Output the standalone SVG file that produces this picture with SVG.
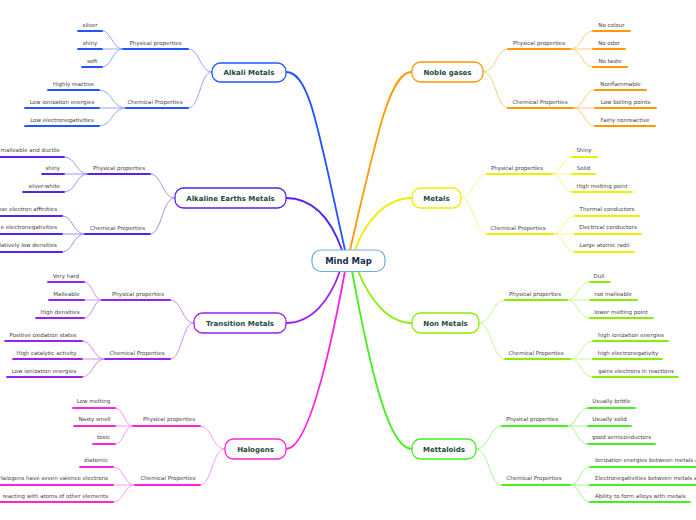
<svg xmlns="http://www.w3.org/2000/svg" width="696" height="520" viewBox="0 0 696 520">
<style>
.t{font-family:"DejaVu Sans",Verdana,sans-serif;font-size:5.5px;fill:#444;text-anchor:middle}
.te{text-anchor:end}.ts{text-anchor:start}
.n{font-family:"DejaVu Sans",Verdana,sans-serif;font-weight:bold;font-size:7px;fill:#1d4a3c;text-anchor:middle}
.c{fill:none;stroke-width:1}
.m{fill:none;stroke-width:1.8}
.u{stroke-width:1.8;stroke-linecap:round}
.box{fill:#fff;stroke-width:1.3}
.b1{stroke:#2255ff}.l1{stroke:#90a8ff}
.b2{stroke:#5522ee}.l2{stroke:#a690f8}
.b3{stroke:#9922ee}.l3{stroke:#cc90f8}
.b4{stroke:#ff22dd}.l4{stroke:#ff99ee}
.b5{stroke:#ff9900}.l5{stroke:#ffcc77}
.b6{stroke:#eeee00}.l6{stroke:#f6f690}
.b7{stroke:#88ee00}.l7{stroke:#c8f890}
.b8{stroke:#44ee22}.l8{stroke:#a4f890}
</style>
<g id="connectors">
<path class="m b1" d="M286,72 C310,72 318,130 345,250"/>
<path class="m b2" d="M286,198 C315,198 332,222 342,250"/>
<path class="m b3" d="M286,323 C312,323 330,300 340,271"/>
<path class="m b4" d="M286,449 C305,449 325,380 345,271"/>
<path class="m b5" d="M412,72 C390,72 378,130 350,250"/>
<path class="m b6" d="M412,198 C385,198 365,222 355,250"/>
<path class="m b7" d="M412,323 C388,323 370,300 358,271"/>
<path class="m b8" d="M412,449 C390,449 372,380 352,271"/>
<g class="l1">
<path class="c" d="M212,72 C200,72 200,49 188,49"/><path class="c" d="M212,72 C200,72 200,108 188,108"/>
<path class="c" d="M123,49 C112,49 112,31 102,31"/><path class="c" d="M123,49 L102,49"/><path class="c" d="M123,49 C112,49 112,67 102,67"/>
<path class="c" d="M126,108 C112,108 112,90 99,90"/><path class="c" d="M126,108 L99,108"/><path class="c" d="M126,108 C112,108 112,126 99,126"/>
</g>
<g class="l2">
<path class="c" d="M175,198 C162,198 162,174 150,174"/><path class="c" d="M175,198 C162,198 162,234 150,234"/>
<path class="c" d="M88,174 C76,174 76,157 64,157"/><path class="c" d="M88,174 L64,174"/><path class="c" d="M88,174 C76,174 76,192 64,192"/>
<path class="c" d="M85,234 C73,234 73,216 62,216"/><path class="c" d="M85,234 L62,234"/><path class="c" d="M85,234 C73,234 73,252 62,252"/>
</g>
<g class="l3">
<path class="c" d="M194,323 C182,323 182,300 170,300"/><path class="c" d="M194,323 C182,323 182,359 170,359"/>
<path class="c" d="M102,300 C93,300 93,282 84,282"/><path class="c" d="M102,300 L84,300"/><path class="c" d="M102,300 C93,300 93,318 84,318"/>
<path class="c" d="M105,359 C93,359 93,341 82,341"/><path class="c" d="M105,359 L82,359"/><path class="c" d="M105,359 C93,359 93,377 82,377"/>
</g>
<g class="l4">
<path class="c" d="M225,449 C212,449 212,426 200,426"/><path class="c" d="M225,449 C212,449 212,485 200,485"/>
<path class="c" d="M133,426 C124,426 124,408 115,408"/><path class="c" d="M133,426 L115,426"/><path class="c" d="M133,426 C124,426 124,444 115,444"/>
<path class="c" d="M135,485 C124,485 124,467 113,467"/><path class="c" d="M135,485 L113,485"/><path class="c" d="M135,485 C124,485 124,502 113,502"/>
</g>
<g class="l5">
<path class="c" d="M483,72 C496,72 496,49 508,49"/><path class="c" d="M483,72 C496,72 496,108 508,108"/>
<path class="c" d="M570,49 C582,49 582,31 593,31"/><path class="c" d="M570,49 L593,49"/><path class="c" d="M570,49 C582,49 582,67 593,67"/>
<path class="c" d="M573,108 C584,108 584,90 595,90"/><path class="c" d="M573,108 L595,108"/><path class="c" d="M573,108 C584,108 584,126 595,126"/>
</g>
<g class="l6">
<path class="c" d="M461,198 C474,198 474,174 487,174"/><path class="c" d="M461,198 C474,198 474,234 487,234"/>
<path class="c" d="M552,174 C562,174 562,157 572,157"/><path class="c" d="M552,174 L572,174"/><path class="c" d="M552,174 C562,174 562,192 572,192"/>
<path class="c" d="M553,234 C564,234 564,216 575,216"/><path class="c" d="M553,234 L575,234"/><path class="c" d="M553,234 C564,234 564,252 575,252"/>
</g>
<g class="l7">
<path class="c" d="M479,323 C492,323 492,300 505,300"/><path class="c" d="M479,323 C492,323 492,359 505,359"/>
<path class="c" d="M567,300 C578,300 578,282 590,282"/><path class="c" d="M567,300 L590,300"/><path class="c" d="M567,300 C578,300 578,318 590,318"/>
<path class="c" d="M570,359 C581,359 581,341 593,341"/><path class="c" d="M570,359 L593,359"/><path class="c" d="M570,359 C581,359 581,377 593,377"/>
</g>
<g class="l8">
<path class="c" d="M476,449 C489,449 489,426 502,426"/><path class="c" d="M476,449 C489,449 489,485 502,485"/>
<path class="c" d="M567,426 C577,426 577,408 588,408"/><path class="c" d="M567,426 L588,426"/><path class="c" d="M567,426 C577,426 577,444 588,444"/>
<path class="c" d="M570,485 C580,485 580,467 590,467"/><path class="c" d="M570,485 L590,485"/><path class="c" d="M570,485 C580,485 580,502 590,502"/>
</g>
</g>

<g id="mind-map">
<rect x="312" y="250" width="73" height="21.5" rx="9" fill="#fff" stroke="#6aaee0" stroke-width="1.2"/>
<text x="348.5" y="264" font-family="DejaVu Sans,Verdana,sans-serif" font-weight="bold" font-size="8.5" fill="#1a2e50" text-anchor="middle">Mind Map</text>
</g>

<g id="alkali-metals">
<rect class="box b1" x="212" y="63" width="74" height="19" rx="8.5"/>
<text class="n" x="249" y="74.5">Alkali Metals</text>
</g>
<g id="alkali-physical"><line class="u b1" x1="123" y1="49" x2="188" y2="49"/><text class="t" x="155.5" y="45">Physical properties</text></g>
<g id="alkali-chemical"><line class="u b1" x1="126" y1="108" x2="188" y2="108"/><text class="t" x="155" y="104">Chemical Properties</text></g>
<g id="alkali-l1"><line class="u b1" x1="78" y1="31" x2="102" y2="31"/><text class="t" x="90" y="27">silver</text></g>
<g id="alkali-l2"><line class="u b1" x1="78" y1="49" x2="102" y2="49"/><text class="t" x="90" y="45">shiny</text></g>
<g id="alkali-l3"><line class="u b1" x1="82" y1="67" x2="102" y2="67"/><text class="t" x="92" y="63">soft</text></g>
<g id="alkali-l4"><line class="u b1" x1="48" y1="90" x2="99" y2="90"/><text class="t" x="73.5" y="86">Highly reactive</text></g>
<g id="alkali-l5"><line class="u b1" x1="25" y1="108" x2="99" y2="108"/><text class="t" x="62" y="104">Low ionization energies</text></g>
<g id="alkali-l6"><line class="u b1" x1="25" y1="126" x2="99" y2="126"/><text class="t" x="62" y="122">Low electronegativities</text></g>

<g id="alkaline-earths-metals">
<rect class="box b2" x="175" y="188" width="111" height="20" rx="8.5"/>
<text class="n" x="230.5" y="200.5">Alkaline Earths Metals</text>
</g>
<g id="ae-physical"><line class="u b2" x1="88" y1="174" x2="150" y2="174"/><text class="t" x="119" y="170">Physical properties</text></g>
<g id="ae-chemical"><line class="u b2" x1="85" y1="234" x2="150" y2="234"/><text class="t" x="117.5" y="230">Chemical Properties</text></g>
<g id="ae-l1"><line class="u b2" x1="0" y1="157" x2="64" y2="157"/><text class="t te" x="60" y="152">malleable and ductile</text></g>
<g id="ae-l2"><line class="u b2" x1="42" y1="174" x2="64" y2="174"/><text class="t te" x="60" y="170">shiny</text></g>
<g id="ae-l3"><line class="u b2" x1="23" y1="192" x2="64" y2="192"/><text class="t te" x="60" y="188">silver-white</text></g>
<g id="ae-l4"><line class="u b2" x1="0" y1="216" x2="62" y2="216"/><text class="t te" x="57" y="211">ose electron affinities</text></g>
<g id="ae-l5"><line class="u b2" x1="0" y1="234" x2="62" y2="234"/><text class="t te" x="57" y="229">e electronegativities</text></g>
<g id="ae-l6"><line class="u b2" x1="0" y1="252" x2="62" y2="252"/><text class="t te" x="57" y="247">latively low densities</text></g>

<g id="transition-metals">
<rect class="box b3" x="194" y="313" width="92" height="20" rx="8.5"/>
<text class="n" x="240" y="325.5">Transition Metals</text>
</g>
<g id="tm-physical"><line class="u b3" x1="102" y1="300" x2="170" y2="300"/><text class="t" x="138" y="296">Physical properties</text></g>
<g id="tm-chemical"><line class="u b3" x1="105" y1="359" x2="170" y2="359"/><text class="t" x="137" y="355">Chemical Properties</text></g>
<g id="tm-l1"><line class="u b3" x1="48" y1="282" x2="84" y2="282"/><text class="t" x="66" y="278">Very hard</text></g>
<g id="tm-l2"><line class="u b3" x1="49" y1="300" x2="84" y2="300"/><text class="t" x="66.5" y="296">Malleable</text></g>
<g id="tm-l3"><line class="u b3" x1="36" y1="318" x2="84" y2="318"/><text class="t" x="60" y="314">High densities</text></g>
<g id="tm-l4"><line class="u b3" x1="5" y1="341" x2="82" y2="341"/><text class="t" x="43" y="337">Positive oxidation states</text></g>
<g id="tm-l5"><line class="u b3" x1="13" y1="359" x2="82" y2="359"/><text class="t" x="46.5" y="355">High catalytic activity</text></g>
<g id="tm-l6"><line class="u b3" x1="7" y1="377" x2="82" y2="377"/><text class="t" x="44" y="373">Low ionization energies</text></g>

<g id="halogens">
<rect class="box b4" x="225" y="439" width="61" height="20" rx="8.5"/>
<text class="n" x="255.5" y="451.5">Halogens</text>
</g>
<g id="ha-physical"><line class="u b4" x1="133" y1="426" x2="200" y2="426"/><text class="t" x="169" y="421">Physical properties</text></g>
<g id="ha-chemical"><line class="u b4" x1="135" y1="485" x2="200" y2="485"/><text class="t" x="168" y="480">Chemical Properties</text></g>
<g id="ha-l1"><line class="u b4" x1="73" y1="408" x2="115" y2="408"/><text class="t" x="93.5" y="403">Low melting</text></g>
<g id="ha-l2"><line class="u b4" x1="74" y1="426" x2="115" y2="426"/><text class="t" x="94.5" y="421">Nasty smell</text></g>
<g id="ha-l3"><line class="u b4" x1="93" y1="444" x2="115" y2="444"/><text class="t" x="103.5" y="439">toxic</text></g>
<g id="ha-l4"><line class="u b4" x1="80" y1="467" x2="113" y2="467"/><text class="t" x="96" y="462">diatomic</text></g>
<g id="ha-l5"><line class="u b4" x1="0" y1="485" x2="113" y2="485"/><text class="t te" x="108" y="480">Halogens have seven valence electrons</text></g>
<g id="ha-l6"><line class="u b4" x1="0" y1="502" x2="113" y2="502"/><text class="t te" x="108" y="498">reacting with atoms of other elements</text></g>

<g id="noble-gases">
<rect class="box b5" x="412" y="62" width="71" height="20" rx="8.5"/>
<text class="n" x="447.5" y="74.5">Noble gases</text>
</g>
<g id="ng-physical"><line class="u b5" x1="508" y1="49" x2="570" y2="49"/><text class="t" x="539" y="45">Physical properties</text></g>
<g id="ng-chemical"><line class="u b5" x1="508" y1="108" x2="573" y2="108"/><text class="t" x="540" y="104">Chemical Properties</text></g>
<g id="ng-l1"><line class="u b5" x1="593" y1="31" x2="630" y2="31"/><text class="t" x="611.5" y="27">No colour</text></g>
<g id="ng-l2"><line class="u b5" x1="593" y1="49" x2="625" y2="49"/><text class="t" x="609" y="45">No odor</text></g>
<g id="ng-l3"><line class="u b5" x1="593" y1="67" x2="627" y2="67"/><text class="t" x="610" y="63">No taste</text></g>
<g id="ng-l4"><line class="u b5" x1="595" y1="90" x2="646" y2="90"/><text class="t" x="620.5" y="86">Nonflammable</text></g>
<g id="ng-l5"><line class="u b5" x1="595" y1="108" x2="656" y2="108"/><text class="t" x="625.5" y="104">Low boiling points</text></g>
<g id="ng-l6"><line class="u b5" x1="595" y1="126" x2="655" y2="126"/><text class="t" x="625" y="122">Fairly nonreactive</text></g>

<g id="metals">
<rect class="box b6" x="412" y="188" width="49" height="20" rx="8.5"/>
<text class="n" x="436.5" y="200.5">Metals</text>
</g>
<g id="me-physical"><line class="u b6" x1="487" y1="174" x2="552" y2="174"/><text class="t" x="517" y="170">Physical properties</text></g>
<g id="me-chemical"><line class="u b6" x1="487" y1="234" x2="553" y2="234"/><text class="t" x="518" y="230">Chemical Properties</text></g>
<g id="me-l1"><line class="u b6" x1="572" y1="157" x2="597" y2="157"/><text class="t" x="584" y="152">Shiny</text></g>
<g id="me-l2"><line class="u b6" x1="572" y1="174" x2="595" y2="174"/><text class="t" x="583.5" y="170">Solid</text></g>
<g id="me-l3"><line class="u b6" x1="572" y1="192" x2="632" y2="192"/><text class="t" x="602" y="188">High melting point</text></g>
<g id="me-l4"><line class="u b6" x1="575" y1="216" x2="639" y2="216"/><text class="t" x="607" y="211">Thermal conductors</text></g>
<g id="me-l5"><line class="u b6" x1="575" y1="234" x2="641" y2="234"/><text class="t" x="608" y="229">Electrical conductors</text></g>
<g id="me-l6"><line class="u b6" x1="575" y1="252" x2="634" y2="252"/><text class="t" x="604.5" y="247">Large atomic radii</text></g>

<g id="non-metals">
<rect class="box b7" x="412" y="313" width="67" height="20" rx="8.5"/>
<text class="n" x="445.5" y="325.5">Non Metals</text>
</g>
<g id="nm-physical"><line class="u b7" x1="505" y1="300" x2="567" y2="300"/><text class="t" x="535" y="296">Physical properties</text></g>
<g id="nm-chemical"><line class="u b7" x1="505" y1="359" x2="570" y2="359"/><text class="t" x="536" y="355">Chemical Properties</text></g>
<g id="nm-l1"><line class="u b7" x1="590" y1="282" x2="610" y2="282"/><text class="t" x="599" y="278">Dull</text></g>
<g id="nm-l2"><line class="u b7" x1="590" y1="300" x2="637" y2="300"/><text class="t" x="613" y="296">not malleable</text></g>
<g id="nm-l3"><line class="u b7" x1="590" y1="318" x2="653" y2="318"/><text class="t" x="621" y="314">lower melting point</text></g>
<g id="nm-l4"><line class="u b7" x1="593" y1="341" x2="668" y2="341"/><text class="t" x="631" y="337">high ionization energies</text></g>
<g id="nm-l5"><line class="u b7" x1="593" y1="359" x2="662" y2="359"/><text class="t" x="628" y="355">high electronegativity</text></g>
<g id="nm-l6"><line class="u b7" x1="593" y1="377" x2="678" y2="377"/><text class="t" x="636" y="373">gains electrons in reactions</text></g>

<g id="mettaloids">
<rect class="box b8" x="412" y="439" width="64" height="20" rx="8.5"/>
<text class="n" x="444" y="451.5">Mettaloids</text>
</g>
<g id="mt-physical"><line class="u b8" x1="502" y1="426" x2="567" y2="426"/><text class="t" x="532" y="421">Physical properties</text></g>
<g id="mt-chemical"><line class="u b8" x1="502" y1="485" x2="570" y2="485"/><text class="t" x="534" y="480">Chemical Properties</text></g>
<g id="mt-l1"><line class="u b8" x1="588" y1="408" x2="635" y2="408"/><text class="t" x="611.5" y="403">Usually brittle</text></g>
<g id="mt-l2"><line class="u b8" x1="588" y1="426" x2="631" y2="426"/><text class="t" x="609.5" y="421">Usually solid</text></g>
<g id="mt-l3"><line class="u b8" x1="588" y1="444" x2="655" y2="444"/><text class="t" x="621.5" y="439">good semiconductors</text></g>
<g id="mt-l4"><line class="u b8" x1="590" y1="467" x2="698" y2="467"/><text class="t ts" x="595" y="462">Ionization energies between metals a</text></g>
<g id="mt-l5"><line class="u b8" x1="590" y1="485" x2="698" y2="485"/><text class="t ts" x="595" y="480">Electronegativities between metals a</text></g>
<g id="mt-l6"><line class="u b8" x1="590" y1="502" x2="690" y2="502"/><text class="t ts" x="595" y="498">Ability to form alloys with metals</text></g>
</svg>
